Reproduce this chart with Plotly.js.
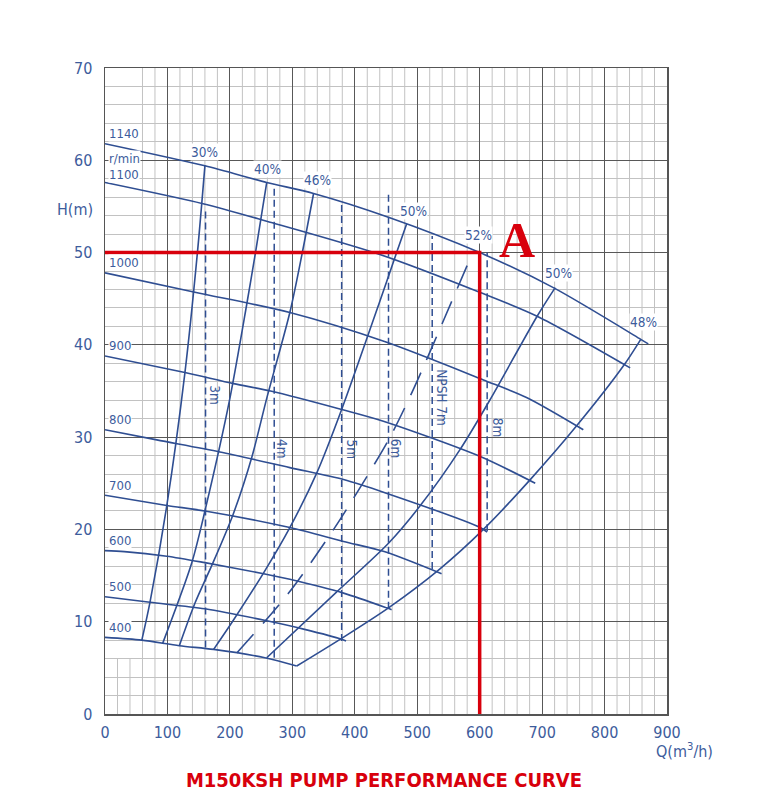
<!DOCTYPE html>
<html><head><meta charset="utf-8">
<script src="https://cdn.plot.ly/plotly-3.0.1.min.js"></script>
<style>html,body{margin:0;padding:0;background:#fff}#chart{width:768px;height:812px}</style>
</head><body><div id="chart"></div>
<script>
// ---------- DATA ----------
const xTicks = [0,100,200,300,400,500,600,700,800,900];
const yTicks = [0,10,20,30,40,50,60,70];

// Head-flow curves at each speed (r/min)
const speedLabels = ['1140','1100','1000','900','800','700','600','500','400'];
const q1140 = [0,160,259,334,455,600,718,858,870];
const h1140 = [61.8,59.4,57.6,56.4,53.8,50.0,46.2,40.6,40.1];
const q1100 = [0,157,259,440,600,692,841];
const h1100 = [57.6,55.3,53.4,49.8,45.7,43.1,37.5];
const q1000 = [0,144,296,450,606,675,766];
const h1000 = [47.8,45.7,43.5,40.3,36.2,34.3,30.8];
const q900 = [0,128,206,265,379,447,601,689];
const h900 = [38.8,37.0,35.8,35.0,33.0,31.7,27.9,25.0];
const q800 = [0,83,184,296,382,447,601,612];
const h800 = [30.8,29.7,28.4,26.7,25.4,24.0,20.2,19.7];
const q700 = [0,99,160,296,382,447,539];
const h700 = [23.7,22.6,22.0,20.2,18.7,17.6,15.2];
const q600 = [0,31,99,160,254,296,382,451,459];
const h600 = [17.7,17.6,17.1,16.4,15.2,14.6,13.1,11.5,11.3];
const q500 = [0,72,160,259,318,379,386];
const h500 = [12.7,12.1,11.4,10.1,9.2,8.1,7.9];
const q400 = [0,59,119,174,256,307];
const h400 = [8.3,8.0,7.4,7.0,6.1,5.2];

// Iso-efficiency lines
const effLabels = ['30%','40%','46%','50%','52%','50%','48%'];
const qE30 = [59,72,99,128,148,160];
const hE30 = [8.0,12.1,22.6,37.0,50.0,59.4];
const qE40 = [92,139,160,200,227,241,259];
const hE40 = [7.6,16.4,22.0,34.2,44.4,50.0,57.6];
const qE46 = [119,144,173,205,235,259,296,316,334];
const hE46 = [7.4,12.0,16.4,21.6,27.8,34.2,43.5,50.0,56.4];
const qE50a = [174,205,254,296,339,379,440,467,483];
const hE50a = [7.0,10.1,15.3,20.2,26.1,33.0,44.7,50.0,53.1];
const qE52 = [211,294,368,454,494,545,585];
const hE52 = [6.6,13.1,20.2,29.7,35.2,43.1,49.4];
const qE50b = [259,369,454,504,569,617,692,721];
const hE50b = [6.1,13.1,18.5,22.5,28.7,34.1,43.1,46.2];
const qE48 = [307,379,454,536,606,681,755,830,858];
const hE48 = [5.2,8.2,11.5,15.7,20.0,25.4,31.2,37.7,40.6];

// NPSH required lines
const npshLabels = ['3m','4m','5m','6m','NPSH 7m','8m'];
const npshQ = [161,271,379,454,524,612];
const npshHlow = [7.2,6.1,7.9,11.4,15.7,19.8];
const npshHhigh = [54.7,57.4,55.6,56.5,51.8,50.0];
const npshLabelH = [34.6,28.7,28.7,28.8,34.3,31.0];

// Operating point
const opQ = 600, opH = 50, opLabel = 'A';

// ---------- STYLE ----------
const BLUE = '#2f4e92';
const TXT = '#3d5c9c';
const RED = '#d8000c';
const FONT = 'DejaVu Sans Condensed, DejaVu Sans, sans-serif';
const effShift = [[0,14],[1,13],[4,14],[7,13],[8,23],[3,15],[3,17]];
const npshShift = [10,8,10,7,9,11];

const speedQ = [q1140,q1100,q1000,q900,q800,q700,q600,q500,q400];
const speedH = [h1140,h1100,h1000,h900,h800,h700,h600,h500,h400];
const effQ = [qE30,qE40,qE46,qE50a,qE52,qE50b,qE48];
const effH = [hE30,hE40,hE46,hE50a,hE52,hE50b,hE48];

const traces = [];
const annotations = [];

speedQ.forEach((q,i)=>{
  traces.push({x:q, y:speedH[i], mode:'lines', type:'scatter',
    line:{color:BLUE, width:1.6, shape:'spline', smoothing:0.8}, hoverinfo:'skip'});
  annotations.push({x:0, y:speedH[i][0], xref:'x', yref:'y', text:speedLabels[i],
    showarrow:false, xanchor:'left', yanchor:'middle', xshift:3, yshift:(i===1?8:10),
    font:{family:FONT, size:13, color:TXT}, bgcolor:'#fff', borderpad:0});
});
annotations.push({x:0, y:h1100[0], xref:'x', yref:'y', text:'r/min',
  showarrow:false, xanchor:'left', yanchor:'middle', xshift:3, yshift:24,
  font:{family:FONT, size:13, color:TXT}, bgcolor:'#fff', borderpad:0});

effQ.forEach((q,i)=>{
  const dashed = effLabels[i]==='52%';
  traces.push({x:q, y:effH[i], mode:'lines', type:'scatter',
    line:{color:BLUE, width:1.6, shape:'spline', smoothing:0.8, dash: dashed ? '25px,14px' : 'solid'},
    hoverinfo:'skip'});
  const n = q.length-1;
  annotations.push({x:q[n], y:effH[i][n], xref:'x', yref:'y', text:effLabels[i],
    showarrow:false, xanchor:'center', yanchor:'middle', xshift:effShift[i][0], yshift:effShift[i][1],
    font:{family:FONT, size:13.5, color:TXT}, bgcolor:'#fff', borderpad:0});
});

npshQ.forEach((q,i)=>{
  traces.push({x:[q,q], y:[npshHlow[i],npshHhigh[i]], mode:'lines', type:'scatter',
    line:{color:BLUE, width:1.5, dash:'7px,4px'}, hoverinfo:'skip'});
  annotations.push({x:q, y:npshLabelH[i], xref:'x', yref:'y', text:npshLabels[i],
    showarrow:false, textangle:90, xanchor:'center', yanchor:'middle', xshift:npshShift[i],
    font:{family:FONT, size:13.5, color:TXT}});
});

// operating point lines
traces.push({x:[0,opQ,opQ], y:[opH,opH,0], mode:'lines', type:'scatter',
  line:{color:RED, width:3.5}, hoverinfo:'skip'});
annotations.push({x:opQ, y:opH, xref:'x', yref:'y', text:'<b>'+opLabel+'</b>', showarrow:false,
  xanchor:'center', yanchor:'middle', xshift:37, yshift:13,
  font:{family:'Liberation Serif, DejaVu Serif, serif', size:50, color:RED}});

// axis titles
annotations.push({xref:'paper', yref:'paper', x:-0.053, y:0.781, text:'H(m)', showarrow:false,
  xanchor:'center', yanchor:'middle', font:{family:FONT, size:16, color:TXT}});
annotations.push({xref:'paper', yref:'paper', x:0.977, y:-0.056, text:'Q(m<sup>3</sup>/h)', showarrow:false,
  xanchor:'left', yanchor:'middle', font:{family:FONT, size:16, color:TXT}});

// minor vertical grid (missing in the label column above H=6)
const shapes = [];
for (let v = 20; v < 900; v += 20) {
  if (v % 100 === 0) continue;
  shapes.push({type:'line', xref:'x', yref:'y', x0:v, x1:v, y0:0, y1:(v < 60 ? 6 : 70),
    line:{color:'#c2c2c2', width:1}, layer:'below'});
}

const layout = {
  width:768, height:812,
  margin:{l:105, r:101, t:68, b:98},
  paper_bgcolor:'#fff', plot_bgcolor:'#fff',
  showlegend:false,
  title:{text:'<b>M150KSH PUMP PERFORMANCE CURVE</b>', x:0.5, xanchor:'center', y:0.039, yref:'container', yanchor:'middle',
    font:{family:'DejaVu Sans Condensed, sans-serif', size:20, color:RED}},
  xaxis:{range:[0,900], tickvals:xTicks, ticktext:xTicks.map(String), showgrid:true, gridcolor:'#585858', gridwidth:1.1,
    zeroline:false, showline:true, mirror:true, linecolor:'#555', linewidth:1.5,
    ticks:'outside', ticklen:3, tickcolor:'rgba(0,0,0,0)',
    tickfont:{family:FONT, size:16, color:TXT}, fixedrange:true},
  yaxis:{range:[0,70], tickvals:yTicks, ticktext:yTicks.map(String), showgrid:true, gridcolor:'#585858', gridwidth:1.1,
    zeroline:false, showline:true, mirror:true, linecolor:'#555', linewidth:1.5,
    ticks:'outside', ticklen:8, tickcolor:'rgba(0,0,0,0)',
    minor:{dtick:2, tick0:0, showgrid:true, gridcolor:'#c2c2c2', gridwidth:1},
    tickfont:{family:FONT, size:16, color:TXT}, fixedrange:true},
  shapes:shapes,
  annotations:annotations
};

Plotly.newPlot('chart', traces, layout, {staticPlot:true, displayModeBar:false});
</script></body></html>
